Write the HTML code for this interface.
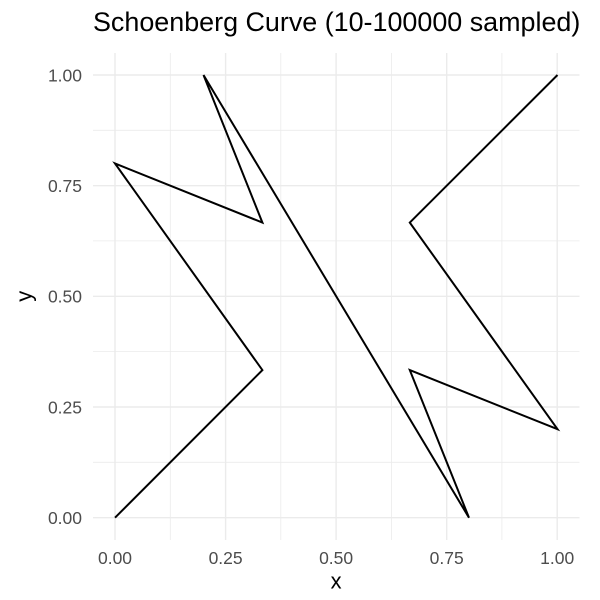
<!DOCTYPE html>
<html>
<head>
<meta charset="utf-8">
<style>
html,body{margin:0;padding:0;background:#fff;}
svg{display:block;}
</style>
</head>
<body>
<svg width="600" height="600" viewBox="0 0 600 600" xmlns="http://www.w3.org/2000/svg">
<rect width="600" height="600" fill="#fff"/>
<!-- minor grid -->
<g stroke="#ebebeb" stroke-width="0.8" fill="none">
<line x1="170.3" y1="53" x2="170.3" y2="540"/>
<line x1="280.8" y1="53" x2="280.8" y2="540"/>
<line x1="391.4" y1="53" x2="391.4" y2="540"/>
<line x1="501.9" y1="53" x2="501.9" y2="540"/>
<line x1="93" y1="130.3" x2="579.5" y2="130.3"/>
<line x1="93" y1="240.9" x2="579.5" y2="240.9"/>
<line x1="93" y1="351.6" x2="579.5" y2="351.6"/>
<line x1="93" y1="462.3" x2="579.5" y2="462.3"/>
</g>
<!-- major grid -->
<g stroke="#ebebeb" stroke-width="1.4" fill="none">
<line x1="115" y1="53" x2="115" y2="540"/>
<line x1="225.6" y1="53" x2="225.6" y2="540"/>
<line x1="336.1" y1="53" x2="336.1" y2="540"/>
<line x1="446.7" y1="53" x2="446.7" y2="540"/>
<line x1="557.2" y1="53" x2="557.2" y2="540"/>
<line x1="93" y1="75" x2="579.5" y2="75"/>
<line x1="93" y1="185.7" x2="579.5" y2="185.7"/>
<line x1="93" y1="296.3" x2="579.5" y2="296.3"/>
<line x1="93" y1="407" x2="579.5" y2="407"/>
<line x1="93" y1="517.7" x2="579.5" y2="517.7"/>
</g>
<!-- curve -->
<polyline fill="none" stroke="#000" stroke-width="2" stroke-linejoin="miter" stroke-miterlimit="10"
points="115,517.7 262.4,370.1 115,163.5 262.4,222.6 203.5,75 469,517.7 409.8,370.1 557.5,429.2 409.8,222.6 557.5,75"/>
<!-- title -->
<text x="93" y="31" font-family="Liberation Sans, Arial, sans-serif" font-size="26.9" fill="#000">Schoenberg Curve (10-100000 sampled)</text>
<!-- y tick labels -->
<g font-family="Liberation Sans, Arial, sans-serif" font-size="17.5" fill="#4d4d4d" text-anchor="end">
<text x="82" y="81.3">1.00</text>
<text x="82" y="192">0.75</text>
<text x="82" y="302.6">0.50</text>
<text x="82" y="413.3">0.25</text>
<text x="82" y="524">0.00</text>
</g>
<!-- x tick labels -->
<g font-family="Liberation Sans, Arial, sans-serif" font-size="17.5" fill="#4d4d4d" text-anchor="middle">
<text x="115" y="564">0.00</text>
<text x="225.6" y="564">0.25</text>
<text x="336.1" y="564">0.50</text>
<text x="446.7" y="564">0.75</text>
<text x="557.2" y="564">1.00</text>
</g>
<!-- axis titles -->
<text x="336.1" y="588.5" font-family="Liberation Sans, Arial, sans-serif" font-size="21.9" fill="#000" text-anchor="middle">x</text>
<text transform="translate(31.5,296.3) rotate(-90)" x="0" y="0" font-family="Liberation Sans, Arial, sans-serif" font-size="21.9" fill="#000" text-anchor="middle">y</text>
</svg>
</body>
</html>
